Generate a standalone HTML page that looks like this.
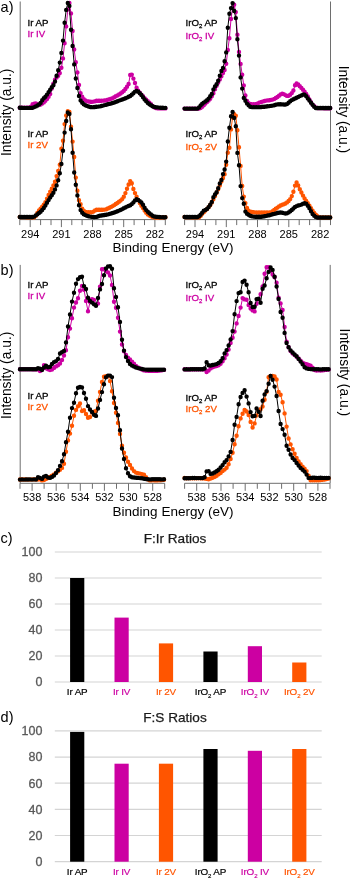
<!DOCTYPE html>
<html><head><meta charset="utf-8"><style>
html,body{margin:0;padding:0;background:#fff;width:350px;height:878px;overflow:hidden}
svg{display:block;will-change:transform;font-family:"Liberation Sans", sans-serif}
</style></head><body>
<svg width="350" height="878" viewBox="0 0 350 878">
<line x1="20.2" y1="1.5" x2="20.2" y2="219.6" stroke="#6e6e6e" stroke-width="1"/>
<line x1="330.5" y1="1.5" x2="330.5" y2="219.6" stroke="#6e6e6e" stroke-width="1"/>
<line x1="19.8" y1="219.6" x2="165.3" y2="219.6" stroke="#6e6e6e" stroke-width="1"/>
<line x1="19.8" y1="219.6" x2="19.8" y2="225.1" stroke="#6e6e6e" stroke-width="1"/>
<line x1="30.2" y1="219.6" x2="30.2" y2="227.1" stroke="#6e6e6e" stroke-width="1"/>
<text x="30.2" y="237.8" font-size="11" fill="#000" text-anchor="middle">294</text>
<line x1="40.6" y1="219.6" x2="40.6" y2="225.1" stroke="#6e6e6e" stroke-width="1"/>
<line x1="51" y1="219.6" x2="51" y2="225.1" stroke="#6e6e6e" stroke-width="1"/>
<line x1="61.4" y1="219.6" x2="61.4" y2="227.1" stroke="#6e6e6e" stroke-width="1"/>
<text x="61.4" y="237.8" font-size="11" fill="#000" text-anchor="middle">291</text>
<line x1="71.8" y1="219.6" x2="71.8" y2="225.1" stroke="#6e6e6e" stroke-width="1"/>
<line x1="82.1" y1="219.6" x2="82.1" y2="225.1" stroke="#6e6e6e" stroke-width="1"/>
<line x1="92.5" y1="219.6" x2="92.5" y2="227.1" stroke="#6e6e6e" stroke-width="1"/>
<text x="92.5" y="237.8" font-size="11" fill="#000" text-anchor="middle">288</text>
<line x1="102.9" y1="219.6" x2="102.9" y2="225.1" stroke="#6e6e6e" stroke-width="1"/>
<line x1="113.3" y1="219.6" x2="113.3" y2="225.1" stroke="#6e6e6e" stroke-width="1"/>
<line x1="123.7" y1="219.6" x2="123.7" y2="227.1" stroke="#6e6e6e" stroke-width="1"/>
<text x="123.7" y="237.8" font-size="11" fill="#000" text-anchor="middle">285</text>
<line x1="134.1" y1="219.6" x2="134.1" y2="225.1" stroke="#6e6e6e" stroke-width="1"/>
<line x1="144.5" y1="219.6" x2="144.5" y2="225.1" stroke="#6e6e6e" stroke-width="1"/>
<line x1="154.9" y1="219.6" x2="154.9" y2="227.1" stroke="#6e6e6e" stroke-width="1"/>
<text x="154.9" y="237.8" font-size="11" fill="#000" text-anchor="middle">282</text>
<line x1="165.3" y1="219.6" x2="165.3" y2="225.1" stroke="#6e6e6e" stroke-width="1"/>
<line x1="184.6" y1="219.6" x2="330.5" y2="219.6" stroke="#6e6e6e" stroke-width="1"/>
<line x1="184.6" y1="219.6" x2="184.6" y2="225.1" stroke="#6e6e6e" stroke-width="1"/>
<line x1="195" y1="219.6" x2="195" y2="227.1" stroke="#6e6e6e" stroke-width="1"/>
<text x="195" y="237.8" font-size="11" fill="#000" text-anchor="middle">294</text>
<line x1="205.4" y1="219.6" x2="205.4" y2="225.1" stroke="#6e6e6e" stroke-width="1"/>
<line x1="215.9" y1="219.6" x2="215.9" y2="225.1" stroke="#6e6e6e" stroke-width="1"/>
<line x1="226.3" y1="219.6" x2="226.3" y2="227.1" stroke="#6e6e6e" stroke-width="1"/>
<text x="226.3" y="237.8" font-size="11" fill="#000" text-anchor="middle">291</text>
<line x1="236.7" y1="219.6" x2="236.7" y2="225.1" stroke="#6e6e6e" stroke-width="1"/>
<line x1="247.1" y1="219.6" x2="247.1" y2="225.1" stroke="#6e6e6e" stroke-width="1"/>
<line x1="257.5" y1="219.6" x2="257.5" y2="227.1" stroke="#6e6e6e" stroke-width="1"/>
<text x="257.5" y="237.8" font-size="11" fill="#000" text-anchor="middle">288</text>
<line x1="268" y1="219.6" x2="268" y2="225.1" stroke="#6e6e6e" stroke-width="1"/>
<line x1="278.4" y1="219.6" x2="278.4" y2="225.1" stroke="#6e6e6e" stroke-width="1"/>
<line x1="288.8" y1="219.6" x2="288.8" y2="227.1" stroke="#6e6e6e" stroke-width="1"/>
<text x="288.8" y="237.8" font-size="11" fill="#000" text-anchor="middle">285</text>
<line x1="299.2" y1="219.6" x2="299.2" y2="225.1" stroke="#6e6e6e" stroke-width="1"/>
<line x1="309.6" y1="219.6" x2="309.6" y2="225.1" stroke="#6e6e6e" stroke-width="1"/>
<line x1="320.1" y1="219.6" x2="320.1" y2="227.1" stroke="#6e6e6e" stroke-width="1"/>
<text x="320.1" y="237.8" font-size="11" fill="#000" text-anchor="middle">282</text>
<line x1="330.5" y1="219.6" x2="330.5" y2="225.1" stroke="#6e6e6e" stroke-width="1"/>
<path d="M19.8 107.8 21.4 107.8 23 107.8 24.6 107.7 26.2 107.7 27.8 107.6 29.4 107.5 31 106.6 32.6 104.3 34.2 103.7 35.8 103.5 37.4 104.2 39 105 40.6 104.6 42.2 103.5 43.8 102.4 45.4 100.8 47 99 48.6 96.8 50.2 93.9 51.8 88.6 53.4 83.7 55 79.8 56.6 77.4 58.2 75.8 59.8 73.1 61.4 67.8 63 58.4 64.6 43.2 66.2 26.4 67.8 9.5 69.4 3 71 13.4 72.6 31 74.2 49.5 75.8 62.2 77.4 72.4 79 85 80.6 93.3 82.2 96.8 83.8 99.1 85.4 100.5 87 101.1 88.6 101.5 90.2 101.8 91.8 101.9 93.4 101.6 95 101.2 96.6 100.8 98.2 100.7 99.8 100.7 101.4 100.7 103 100.6 104.6 100.5 106.2 100.2 107.8 99.8 109.4 99.3 111 98.8 112.6 98.1 114.2 97.2 115.8 96.3 117.4 95.4 119 94.5 120.6 93.5 122.2 92.3 123.8 90.9 125.4 89 127 86.7 128.6 84 130.2 75 131.8 74.6 133.4 78.6 135 83 136.6 87.7 138.2 90.7 139.8 92.8 141.4 94.6 143 96.3 144.6 98.1 146.2 99.8 147.8 101.3 149.4 102.8 151 104.3 152.6 105.9 154.2 107.3 155.8 108.1 157.4 108.2 159 108.3 160.6 108.3 162.2 108.4 163.8 108.4 165.4 108.4" fill="none" stroke="#cc00a2" stroke-width="1.0"/>
<path d="M19.8 107.8h0M21.4 107.8h0M23 107.8h0M24.6 107.7h0M26.2 107.7h0M27.8 107.6h0M29.4 107.5h0M31 106.6h0M32.6 104.3h0M34.2 103.7h0M35.8 103.5h0M37.4 104.2h0M39 105h0M40.6 104.6h0M42.2 103.5h0M43.8 102.4h0M45.4 100.8h0M47 99h0M48.6 96.8h0M50.2 93.9h0M51.8 88.6h0M53.4 83.7h0M55 79.8h0M56.6 77.4h0M58.2 75.8h0M59.8 73.1h0M61.4 67.8h0M63 58.4h0M64.6 43.2h0M66.2 26.4h0M67.8 9.5h0M69.4 3h0M71 13.4h0M72.6 31h0M74.2 49.5h0M75.8 62.2h0M77.4 72.4h0M79 85h0M80.6 93.3h0M82.2 96.8h0M83.8 99.1h0M85.4 100.5h0M87 101.1h0M88.6 101.5h0M90.2 101.8h0M91.8 101.9h0M93.4 101.6h0M95 101.2h0M96.6 100.8h0M98.2 100.7h0M99.8 100.7h0M101.4 100.7h0M103 100.6h0M104.6 100.5h0M106.2 100.2h0M107.8 99.8h0M109.4 99.3h0M111 98.8h0M112.6 98.1h0M114.2 97.2h0M115.8 96.3h0M117.4 95.4h0M119 94.5h0M120.6 93.5h0M122.2 92.3h0M123.8 90.9h0M125.4 89h0M127 86.7h0M128.6 84h0M130.2 75h0M131.8 74.6h0M133.4 78.6h0M135 83h0M136.6 87.7h0M138.2 90.7h0M139.8 92.8h0M141.4 94.6h0M143 96.3h0M144.6 98.1h0M146.2 99.8h0M147.8 101.3h0M149.4 102.8h0M151 104.3h0M152.6 105.9h0M154.2 107.3h0M155.8 108.1h0M157.4 108.2h0M159 108.3h0M160.6 108.3h0M162.2 108.4h0M163.8 108.4h0M165.4 108.4h0" fill="none" stroke="#cc00a2" stroke-width="4.4" stroke-linecap="round"/>
<path d="M19.8 107.8 21.4 107.8 23 107.9 24.6 107.9 26.2 107.9 27.8 107.9 29.4 107.9 31 107.9 32.6 107.7 34.2 107.1 35.8 106.4 37.4 105.5 39 104.4 40.6 102.9 42.2 100.3 43.8 98.3 45.4 96.7 47 94.6 48.6 92.1 50.2 89.7 51.8 87.3 53.4 85.2 55 81.6 56.6 75.7 58.2 70.2 59.8 62.6 61.4 52.9 63 40.6 64.6 22.7 66.2 9.9 67.8 3 69.4 5.9 71 29.7 72.6 46 74.2 64.4 75.8 78.5 77.4 88 79 96 80.6 100.4 82.2 102.7 83.8 104.2 85.4 105.2 87 105.9 88.6 106.5 90.2 107 91.8 107.1 93.4 107.1 95 107 96.6 106.8 98.2 106.6 99.8 106.4 101.4 106 103 105.6 104.6 105.1 106.2 104.7 107.8 104.3 109.4 103.9 111 103.5 112.6 103 114.2 102.5 115.8 101.9 117.4 101.2 119 100.6 120.6 100.1 122.2 99.5 123.8 98.9 125.4 98.3 127 97.6 128.6 96.8 130.2 96 131.8 94.8 133.4 93.2 135 91.6 136.6 90.9 138.2 91.8 139.8 93.2 141.4 95 143 97.3 144.6 99.4 146.2 101.2 147.8 102.9 149.4 104.3 151 105.3 152.6 106.2 154.2 106.9 155.8 107.2 157.4 107.4 159 107.6 160.6 107.7 162.2 107.8 163.8 107.9 165.4 107.9" fill="none" stroke="#000000" stroke-width="1.0"/>
<path d="M19.8 107.8h0M21.4 107.8h0M23 107.9h0M24.6 107.9h0M26.2 107.9h0M27.8 107.9h0M29.4 107.9h0M31 107.9h0M32.6 107.7h0M34.2 107.1h0M35.8 106.4h0M37.4 105.5h0M39 104.4h0M40.6 102.9h0M42.2 100.3h0M43.8 98.3h0M45.4 96.7h0M47 94.6h0M48.6 92.1h0M50.2 89.7h0M51.8 87.3h0M53.4 85.2h0M55 81.6h0M56.6 75.7h0M58.2 70.2h0M59.8 62.6h0M61.4 52.9h0M63 40.6h0M64.6 22.7h0M66.2 9.9h0M67.8 3h0M69.4 5.9h0M71 29.7h0M72.6 46h0M74.2 64.4h0M75.8 78.5h0M77.4 88h0M79 96h0M80.6 100.4h0M82.2 102.7h0M83.8 104.2h0M85.4 105.2h0M87 105.9h0M88.6 106.5h0M90.2 107h0M91.8 107.1h0M93.4 107.1h0M95 107h0M96.6 106.8h0M98.2 106.6h0M99.8 106.4h0M101.4 106h0M103 105.6h0M104.6 105.1h0M106.2 104.7h0M107.8 104.3h0M109.4 103.9h0M111 103.5h0M112.6 103h0M114.2 102.5h0M115.8 101.9h0M117.4 101.2h0M119 100.6h0M120.6 100.1h0M122.2 99.5h0M123.8 98.9h0M125.4 98.3h0M127 97.6h0M128.6 96.8h0M130.2 96h0M131.8 94.8h0M133.4 93.2h0M135 91.6h0M136.6 90.9h0M138.2 91.8h0M139.8 93.2h0M141.4 95h0M143 97.3h0M144.6 99.4h0M146.2 101.2h0M147.8 102.9h0M149.4 104.3h0M151 105.3h0M152.6 106.2h0M154.2 106.9h0M155.8 107.2h0M157.4 107.4h0M159 107.6h0M160.6 107.7h0M162.2 107.8h0M163.8 107.9h0M165.4 107.9h0" fill="none" stroke="#000000" stroke-width="4.4" stroke-linecap="round"/>
<path d="M19.8 217 21.4 217.1 23 217.1 24.6 217.1 26.2 217.2 27.8 217.2 29.4 217.2 31 217.2 32.6 217.2 34.2 217.2 35.8 215.7 37.4 212.9 39 210.5 40.6 208.6 42.2 206.8 43.8 204.8 45.4 202.3 47 198.7 48.6 195 50.2 191.8 51.8 188.8 53.4 185.4 55 181.7 56.6 176.1 58.2 170.9 59.8 164.8 61.4 148.7 63 140.7 64.6 124.1 66.2 115.5 67.8 111.1 69.4 111.9 71 126.6 72.6 141.6 74.2 157 75.8 177.6 77.4 190.8 79 200.3 80.6 204.3 82.2 208.8 83.8 210.8 85.4 212 87 212.3 88.6 212.3 90.2 212.3 91.8 212.3 93.4 211.6 95 210.5 96.6 209.7 98.2 209.7 99.8 209.7 101.4 209.7 103 209.7 104.6 209.6 106.2 209.2 107.8 208.5 109.4 207.7 111 206.9 112.6 206.1 114.2 205.1 115.8 204 117.4 202.9 119 201.8 120.6 200.6 122.2 199.1 123.8 196.7 125.4 193.1 127 188.8 128.6 184.5 130.2 181.1 131.8 183.3 133.4 189 135 193.1 136.6 196.8 138.2 200.1 139.8 203 141.4 205.7 143 208.1 144.6 210.5 146.2 212.8 147.8 214.4 149.4 215.5 151 216.3 152.6 217 154.2 217.4 155.8 217.5 157.4 217.5 159 217.5 160.6 217.5 162.2 217.4 163.8 217.3 165.4 217.2" fill="none" stroke="#ff5500" stroke-width="1.0"/>
<path d="M19.8 217h0M21.4 217.1h0M23 217.1h0M24.6 217.1h0M26.2 217.2h0M27.8 217.2h0M29.4 217.2h0M31 217.2h0M32.6 217.2h0M34.2 217.2h0M35.8 215.7h0M37.4 212.9h0M39 210.5h0M40.6 208.6h0M42.2 206.8h0M43.8 204.8h0M45.4 202.3h0M47 198.7h0M48.6 195h0M50.2 191.8h0M51.8 188.8h0M53.4 185.4h0M55 181.7h0M56.6 176.1h0M58.2 170.9h0M59.8 164.8h0M61.4 148.7h0M63 140.7h0M64.6 124.1h0M66.2 115.5h0M67.8 111.1h0M69.4 111.9h0M71 126.6h0M72.6 141.6h0M74.2 157h0M75.8 177.6h0M77.4 190.8h0M79 200.3h0M80.6 204.3h0M82.2 208.8h0M83.8 210.8h0M85.4 212h0M87 212.3h0M88.6 212.3h0M90.2 212.3h0M91.8 212.3h0M93.4 211.6h0M95 210.5h0M96.6 209.7h0M98.2 209.7h0M99.8 209.7h0M101.4 209.7h0M103 209.7h0M104.6 209.6h0M106.2 209.2h0M107.8 208.5h0M109.4 207.7h0M111 206.9h0M112.6 206.1h0M114.2 205.1h0M115.8 204h0M117.4 202.9h0M119 201.8h0M120.6 200.6h0M122.2 199.1h0M123.8 196.7h0M125.4 193.1h0M127 188.8h0M128.6 184.5h0M130.2 181.1h0M131.8 183.3h0M133.4 189h0M135 193.1h0M136.6 196.8h0M138.2 200.1h0M139.8 203h0M141.4 205.7h0M143 208.1h0M144.6 210.5h0M146.2 212.8h0M147.8 214.4h0M149.4 215.5h0M151 216.3h0M152.6 217h0M154.2 217.4h0M155.8 217.5h0M157.4 217.5h0M159 217.5h0M160.6 217.5h0M162.2 217.4h0M163.8 217.3h0M165.4 217.2h0" fill="none" stroke="#ff5500" stroke-width="4.4" stroke-linecap="round"/>
<path d="M19.8 217 21.4 217 23 217 24.6 217 26.2 217 27.8 217 29.4 217 31 217 32.6 217 34.2 216.6 35.8 215.4 37.4 214.2 39 213 40.6 211.7 42.2 210 43.8 208 45.4 205.5 47 202.7 48.6 200.1 50.2 197.4 51.8 195.2 53.4 192.8 55 189.4 56.6 185.4 58.2 180.2 59.8 173.2 61.4 163.9 63 150.7 64.6 132.6 66.2 121 67.8 112.5 69.4 113.9 71 129.3 72.6 152.7 74.2 172.5 75.8 184.7 77.4 195.4 79 205.2 80.6 210.1 82.2 212.7 83.8 214.2 85.4 215.1 87 215.8 88.6 216.3 90.2 216.6 91.8 216.9 93.4 217 95 217.1 96.6 216.9 98.2 216.3 99.8 215.8 101.4 215.5 103 215.3 104.6 215 106.2 214.7 107.8 214.4 109.4 213.9 111 213.5 112.6 213 114.2 212.5 115.8 211.9 117.4 211.3 119 210.6 120.6 209.9 122.2 209.1 123.8 208.2 125.4 207.4 127 206.6 128.6 205.9 130.2 205.2 131.8 204.1 133.4 202.4 135 200.5 136.6 199.3 138.2 200 139.8 201.1 141.4 202.5 143 204.8 144.6 207.8 146.2 210.1 147.8 211.8 149.4 213.2 151 214.5 152.6 215.7 154.2 216.5 155.8 216.8 157.4 216.9 159 217 160.6 217.1 162.2 217.1 163.8 217.2 165.4 217.2" fill="none" stroke="#000000" stroke-width="1.0"/>
<path d="M19.8 217h0M21.4 217h0M23 217h0M24.6 217h0M26.2 217h0M27.8 217h0M29.4 217h0M31 217h0M32.6 217h0M34.2 216.6h0M35.8 215.4h0M37.4 214.2h0M39 213h0M40.6 211.7h0M42.2 210h0M43.8 208h0M45.4 205.5h0M47 202.7h0M48.6 200.1h0M50.2 197.4h0M51.8 195.2h0M53.4 192.8h0M55 189.4h0M56.6 185.4h0M58.2 180.2h0M59.8 173.2h0M61.4 163.9h0M63 150.7h0M64.6 132.6h0M66.2 121h0M67.8 112.5h0M69.4 113.9h0M71 129.3h0M72.6 152.7h0M74.2 172.5h0M75.8 184.7h0M77.4 195.4h0M79 205.2h0M80.6 210.1h0M82.2 212.7h0M83.8 214.2h0M85.4 215.1h0M87 215.8h0M88.6 216.3h0M90.2 216.6h0M91.8 216.9h0M93.4 217h0M95 217.1h0M96.6 216.9h0M98.2 216.3h0M99.8 215.8h0M101.4 215.5h0M103 215.3h0M104.6 215h0M106.2 214.7h0M107.8 214.4h0M109.4 213.9h0M111 213.5h0M112.6 213h0M114.2 212.5h0M115.8 211.9h0M117.4 211.3h0M119 210.6h0M120.6 209.9h0M122.2 209.1h0M123.8 208.2h0M125.4 207.4h0M127 206.6h0M128.6 205.9h0M130.2 205.2h0M131.8 204.1h0M133.4 202.4h0M135 200.5h0M136.6 199.3h0M138.2 200h0M139.8 201.1h0M141.4 202.5h0M143 204.8h0M144.6 207.8h0M146.2 210.1h0M147.8 211.8h0M149.4 213.2h0M151 214.5h0M152.6 215.7h0M154.2 216.5h0M155.8 216.8h0M157.4 216.9h0M159 217h0M160.6 217.1h0M162.2 217.1h0M163.8 217.2h0M165.4 217.2h0" fill="none" stroke="#000000" stroke-width="4.4" stroke-linecap="round"/>
<path d="M184.6 108.6 186.2 108.6 187.8 108.6 189.4 108.6 191 108.6 192.6 108.6 194.2 108.6 195.8 108.6 197.4 108.6 199 108.6 200.6 108 202.2 106.7 203.8 105.3 205.4 103.6 207 102 208.6 100.6 210.2 98.7 211.8 96.2 213.4 93.2 215 89.3 216.6 85.7 218.2 82.6 219.8 79.4 221.4 76.2 223 73 224.6 70 226.2 63.7 227.8 50 229.4 38.3 231 19 232.6 7.7 234.2 4.8 235.8 12.1 237.4 34.8 239 51.9 240.6 63.9 242.2 74.7 243.8 85.4 245.4 95.4 247 101 248.6 103.2 250.2 104 251.8 104.1 253.4 104.2 255 104.2 256.6 103.9 258.2 103.1 259.8 102.4 261.4 101.9 263 101.4 264.6 101 266.2 100.6 267.8 100.4 269.4 100.2 271 99.9 272.6 99.6 274.2 98.9 275.8 98 277.4 97 279 95.8 280.6 94.4 282.2 93.7 283.8 94.1 285.4 95.1 287 95.9 288.6 95.8 290.2 94.7 291.8 93.1 293.4 90.5 295 85.2 296.6 83.5 298.2 84.5 299.8 86.2 301.4 87.9 303 89.7 304.6 91.8 306.2 94 307.8 96.5 309.4 99.4 311 102.2 312.6 104.6 314.2 106.1 315.8 107.4 317.4 108 319 108.1 320.6 108.1 322.2 108.1 323.8 108.2 325.4 108.2 327 108.2 328.6 108.2 330.2 108.2" fill="none" stroke="#cc00a2" stroke-width="1.0"/>
<path d="M184.6 108.6h0M186.2 108.6h0M187.8 108.6h0M189.4 108.6h0M191 108.6h0M192.6 108.6h0M194.2 108.6h0M195.8 108.6h0M197.4 108.6h0M199 108.6h0M200.6 108h0M202.2 106.7h0M203.8 105.3h0M205.4 103.6h0M207 102h0M208.6 100.6h0M210.2 98.7h0M211.8 96.2h0M213.4 93.2h0M215 89.3h0M216.6 85.7h0M218.2 82.6h0M219.8 79.4h0M221.4 76.2h0M223 73h0M224.6 70h0M226.2 63.7h0M227.8 50h0M229.4 38.3h0M231 19h0M232.6 7.7h0M234.2 4.8h0M235.8 12.1h0M237.4 34.8h0M239 51.9h0M240.6 63.9h0M242.2 74.7h0M243.8 85.4h0M245.4 95.4h0M247 101h0M248.6 103.2h0M250.2 104h0M251.8 104.1h0M253.4 104.2h0M255 104.2h0M256.6 103.9h0M258.2 103.1h0M259.8 102.4h0M261.4 101.9h0M263 101.4h0M264.6 101h0M266.2 100.6h0M267.8 100.4h0M269.4 100.2h0M271 99.9h0M272.6 99.6h0M274.2 98.9h0M275.8 98h0M277.4 97h0M279 95.8h0M280.6 94.4h0M282.2 93.7h0M283.8 94.1h0M285.4 95.1h0M287 95.9h0M288.6 95.8h0M290.2 94.7h0M291.8 93.1h0M293.4 90.5h0M295 85.2h0M296.6 83.5h0M298.2 84.5h0M299.8 86.2h0M301.4 87.9h0M303 89.7h0M304.6 91.8h0M306.2 94h0M307.8 96.5h0M309.4 99.4h0M311 102.2h0M312.6 104.6h0M314.2 106.1h0M315.8 107.4h0M317.4 108h0M319 108.1h0M320.6 108.1h0M322.2 108.1h0M323.8 108.2h0M325.4 108.2h0M327 108.2h0M328.6 108.2h0M330.2 108.2h0" fill="none" stroke="#cc00a2" stroke-width="4.4" stroke-linecap="round"/>
<path d="M184.6 108.6 186.2 108.6 187.8 108.6 189.4 108.6 191 108.6 192.6 108.6 194.2 108.6 195.8 108.6 197.4 108.6 199 107.5 200.6 105.4 202.2 103.8 203.8 102.6 205.4 101.4 207 100.2 208.6 98.6 210.2 96.3 211.8 93.9 213.4 89.4 215 86.4 216.6 84.2 218.2 80.7 219.8 75.8 221.4 71 223 67.9 224.6 61.2 226.2 52.4 227.8 27.7 229.4 13.8 231 8.1 232.6 3.1 234.2 11 235.8 18.1 237.4 39.3 239 55.6 240.6 77.4 242.2 88.6 243.8 97.9 245.4 100.8 247 103.6 248.6 105.3 250.2 106.7 251.8 107.1 253.4 107.1 255 107.1 256.6 107.1 258.2 107.1 259.8 107.1 261.4 107 263 106.8 264.6 106.7 266.2 106.5 267.8 106.3 269.4 106.1 271 105.9 272.6 105.6 274.2 105.2 275.8 104.8 277.4 104.4 279 104.3 280.6 104.3 282.2 104.4 283.8 104.5 285.4 104.5 287 104.1 288.6 102.8 290.2 101.2 291.8 100.1 293.4 99.3 295 98.5 296.6 97.7 298.2 96.9 299.8 96.1 301.4 95.4 303 94.6 304.6 94.7 306.2 96.3 307.8 98.4 309.4 100.5 311 102.8 312.6 104.8 314.2 106.8 315.8 108 317.4 108 319 108 320.6 108 322.2 108 323.8 108 325.4 108 327 108 328.6 108 330.2 108" fill="none" stroke="#000000" stroke-width="1.0"/>
<path d="M184.6 108.6h0M186.2 108.6h0M187.8 108.6h0M189.4 108.6h0M191 108.6h0M192.6 108.6h0M194.2 108.6h0M195.8 108.6h0M197.4 108.6h0M199 107.5h0M200.6 105.4h0M202.2 103.8h0M203.8 102.6h0M205.4 101.4h0M207 100.2h0M208.6 98.6h0M210.2 96.3h0M211.8 93.9h0M213.4 89.4h0M215 86.4h0M216.6 84.2h0M218.2 80.7h0M219.8 75.8h0M221.4 71h0M223 67.9h0M224.6 61.2h0M226.2 52.4h0M227.8 27.7h0M229.4 13.8h0M231 8.1h0M232.6 3.1h0M234.2 11h0M235.8 18.1h0M237.4 39.3h0M239 55.6h0M240.6 77.4h0M242.2 88.6h0M243.8 97.9h0M245.4 100.8h0M247 103.6h0M248.6 105.3h0M250.2 106.7h0M251.8 107.1h0M253.4 107.1h0M255 107.1h0M256.6 107.1h0M258.2 107.1h0M259.8 107.1h0M261.4 107h0M263 106.8h0M264.6 106.7h0M266.2 106.5h0M267.8 106.3h0M269.4 106.1h0M271 105.9h0M272.6 105.6h0M274.2 105.2h0M275.8 104.8h0M277.4 104.4h0M279 104.3h0M280.6 104.3h0M282.2 104.4h0M283.8 104.5h0M285.4 104.5h0M287 104.1h0M288.6 102.8h0M290.2 101.2h0M291.8 100.1h0M293.4 99.3h0M295 98.5h0M296.6 97.7h0M298.2 96.9h0M299.8 96.1h0M301.4 95.4h0M303 94.6h0M304.6 94.7h0M306.2 96.3h0M307.8 98.4h0M309.4 100.5h0M311 102.8h0M312.6 104.8h0M314.2 106.8h0M315.8 108h0M317.4 108h0M319 108h0M320.6 108h0M322.2 108h0M323.8 108h0M325.4 108h0M327 108h0M328.6 108h0M330.2 108h0" fill="none" stroke="#000000" stroke-width="4.4" stroke-linecap="round"/>
<path d="M184.6 217 186.2 217.1 187.8 217.1 189.4 217.1 191 217.2 192.6 217.2 194.2 217.2 195.8 217.2 197.4 217.2 199 217.2 200.6 215.9 202.2 213.8 203.8 212.2 205.4 210.6 207 209.1 208.6 207.3 210.2 205.2 211.8 202.6 213.4 199.2 215 196 216.6 192.8 218.2 189.3 219.8 185.5 221.4 181.6 223 178 224.6 174.2 226.2 164.7 227.8 152.8 229.4 147.7 231 129.4 232.6 117.6 234.2 114.2 235.8 115.7 237.4 130.2 239 147.2 240.6 165.9 242.2 186 243.8 196.6 245.4 203.1 247 208 248.6 210.8 250.2 211.7 251.8 212 253.4 212.3 255 212.4 256.6 212.5 258.2 212.5 259.8 212.5 261.4 212.5 263 212.5 264.6 212.5 266.2 212.5 267.8 212.4 269.4 212.4 271 212.2 272.6 211.3 274.2 210 275.8 208.8 277.4 207.6 279 206.4 280.6 205.5 282.2 204.8 283.8 204.2 285.4 203.5 287 202.4 288.6 201 290.2 199.1 291.8 196.1 293.4 191.7 295 185.6 296.6 182.4 298.2 185.4 299.8 189.2 301.4 192.5 303 195.6 304.6 198.4 306.2 200.9 307.8 203.2 309.4 205.6 311 208.2 312.6 210.8 314.2 213 315.8 214.6 317.4 216.2 319 217.2 320.6 217.5 322.2 217.5 323.8 217.5 325.4 217.5 327 217.5 328.6 217.5 330.2 217.5" fill="none" stroke="#ff5500" stroke-width="1.0"/>
<path d="M184.6 217h0M186.2 217.1h0M187.8 217.1h0M189.4 217.1h0M191 217.2h0M192.6 217.2h0M194.2 217.2h0M195.8 217.2h0M197.4 217.2h0M199 217.2h0M200.6 215.9h0M202.2 213.8h0M203.8 212.2h0M205.4 210.6h0M207 209.1h0M208.6 207.3h0M210.2 205.2h0M211.8 202.6h0M213.4 199.2h0M215 196h0M216.6 192.8h0M218.2 189.3h0M219.8 185.5h0M221.4 181.6h0M223 178h0M224.6 174.2h0M226.2 164.7h0M227.8 152.8h0M229.4 147.7h0M231 129.4h0M232.6 117.6h0M234.2 114.2h0M235.8 115.7h0M237.4 130.2h0M239 147.2h0M240.6 165.9h0M242.2 186h0M243.8 196.6h0M245.4 203.1h0M247 208h0M248.6 210.8h0M250.2 211.7h0M251.8 212h0M253.4 212.3h0M255 212.4h0M256.6 212.5h0M258.2 212.5h0M259.8 212.5h0M261.4 212.5h0M263 212.5h0M264.6 212.5h0M266.2 212.5h0M267.8 212.4h0M269.4 212.4h0M271 212.2h0M272.6 211.3h0M274.2 210h0M275.8 208.8h0M277.4 207.6h0M279 206.4h0M280.6 205.5h0M282.2 204.8h0M283.8 204.2h0M285.4 203.5h0M287 202.4h0M288.6 201h0M290.2 199.1h0M291.8 196.1h0M293.4 191.7h0M295 185.6h0M296.6 182.4h0M298.2 185.4h0M299.8 189.2h0M301.4 192.5h0M303 195.6h0M304.6 198.4h0M306.2 200.9h0M307.8 203.2h0M309.4 205.6h0M311 208.2h0M312.6 210.8h0M314.2 213h0M315.8 214.6h0M317.4 216.2h0M319 217.2h0M320.6 217.5h0M322.2 217.5h0M323.8 217.5h0M325.4 217.5h0M327 217.5h0M328.6 217.5h0M330.2 217.5h0" fill="none" stroke="#ff5500" stroke-width="4.4" stroke-linecap="round"/>
<path d="M184.6 217 186.2 217 187.8 217 189.4 217 191 217 192.6 217 194.2 217 195.8 217 197.4 217 199 216.2 200.6 214.7 202.2 212.8 203.8 210.8 205.4 209.9 207 208.9 208.6 207.1 210.2 204.7 211.8 201.9 213.4 197.3 215 194.5 216.6 192.2 218.2 188.3 219.8 183.4 221.4 179.9 223 174.1 224.6 169.5 226.2 161.6 227.8 141.5 229.4 127.7 231 116.3 232.6 111.9 234.2 117.9 235.8 126.3 237.4 152.9 239 165.2 240.6 186.1 242.2 198.1 243.8 203.7 245.4 211.6 247 213.8 248.6 214.8 250.2 215.7 251.8 216.3 253.4 216.6 255 216.7 256.6 216.7 258.2 216.8 259.8 216.8 261.4 216.7 263 216.5 264.6 216.2 266.2 215.9 267.8 215.5 269.4 215.2 271 214.7 272.6 214.3 274.2 213.9 275.8 213.5 277.4 213 279 212.7 280.6 212.5 282.2 212.7 283.8 213.1 285.4 213.5 287 213.3 288.6 212.4 290.2 211.2 291.8 210 293.4 208.5 295 207 296.6 206.1 298.2 205.5 299.8 205.1 301.4 204.6 303 203.8 304.6 203.2 306.2 203.7 307.8 205.8 309.4 208.3 311 211.2 312.6 214 314.2 215.7 315.8 216.9 317.4 217.5 319 217.5 320.6 217.5 322.2 217.5 323.8 217.5 325.4 217.5 327 217.5 328.6 217.5 330.2 217.5" fill="none" stroke="#000000" stroke-width="1.0"/>
<path d="M184.6 217h0M186.2 217h0M187.8 217h0M189.4 217h0M191 217h0M192.6 217h0M194.2 217h0M195.8 217h0M197.4 217h0M199 216.2h0M200.6 214.7h0M202.2 212.8h0M203.8 210.8h0M205.4 209.9h0M207 208.9h0M208.6 207.1h0M210.2 204.7h0M211.8 201.9h0M213.4 197.3h0M215 194.5h0M216.6 192.2h0M218.2 188.3h0M219.8 183.4h0M221.4 179.9h0M223 174.1h0M224.6 169.5h0M226.2 161.6h0M227.8 141.5h0M229.4 127.7h0M231 116.3h0M232.6 111.9h0M234.2 117.9h0M235.8 126.3h0M237.4 152.9h0M239 165.2h0M240.6 186.1h0M242.2 198.1h0M243.8 203.7h0M245.4 211.6h0M247 213.8h0M248.6 214.8h0M250.2 215.7h0M251.8 216.3h0M253.4 216.6h0M255 216.7h0M256.6 216.7h0M258.2 216.8h0M259.8 216.8h0M261.4 216.7h0M263 216.5h0M264.6 216.2h0M266.2 215.9h0M267.8 215.5h0M269.4 215.2h0M271 214.7h0M272.6 214.3h0M274.2 213.9h0M275.8 213.5h0M277.4 213h0M279 212.7h0M280.6 212.5h0M282.2 212.7h0M283.8 213.1h0M285.4 213.5h0M287 213.3h0M288.6 212.4h0M290.2 211.2h0M291.8 210h0M293.4 208.5h0M295 207h0M296.6 206.1h0M298.2 205.5h0M299.8 205.1h0M301.4 204.6h0M303 203.8h0M304.6 203.2h0M306.2 203.7h0M307.8 205.8h0M309.4 208.3h0M311 211.2h0M312.6 214h0M314.2 215.7h0M315.8 216.9h0M317.4 217.5h0M319 217.5h0M320.6 217.5h0M322.2 217.5h0M323.8 217.5h0M325.4 217.5h0M327 217.5h0M328.6 217.5h0M330.2 217.5h0" fill="none" stroke="#000000" stroke-width="4.4" stroke-linecap="round"/>
<line x1="20.2" y1="264.9" x2="20.2" y2="483.3" stroke="#6e6e6e" stroke-width="1"/>
<line x1="330.2" y1="264.9" x2="330.2" y2="483.3" stroke="#6e6e6e" stroke-width="1"/>
<line x1="20" y1="483.3" x2="164.7" y2="483.3" stroke="#6e6e6e" stroke-width="1"/>
<line x1="20" y1="483.3" x2="20" y2="488.8" stroke="#6e6e6e" stroke-width="1"/>
<line x1="32.1" y1="483.3" x2="32.1" y2="490.8" stroke="#6e6e6e" stroke-width="1"/>
<text x="32.1" y="500.8" font-size="11" fill="#000" text-anchor="middle">538</text>
<line x1="44.1" y1="483.3" x2="44.1" y2="488.8" stroke="#6e6e6e" stroke-width="1"/>
<line x1="56.2" y1="483.3" x2="56.2" y2="490.8" stroke="#6e6e6e" stroke-width="1"/>
<text x="56.2" y="500.8" font-size="11" fill="#000" text-anchor="middle">536</text>
<line x1="68.2" y1="483.3" x2="68.2" y2="488.8" stroke="#6e6e6e" stroke-width="1"/>
<line x1="80.3" y1="483.3" x2="80.3" y2="490.8" stroke="#6e6e6e" stroke-width="1"/>
<text x="80.3" y="500.8" font-size="11" fill="#000" text-anchor="middle">534</text>
<line x1="92.4" y1="483.3" x2="92.4" y2="488.8" stroke="#6e6e6e" stroke-width="1"/>
<line x1="104.4" y1="483.3" x2="104.4" y2="490.8" stroke="#6e6e6e" stroke-width="1"/>
<text x="104.4" y="500.8" font-size="11" fill="#000" text-anchor="middle">532</text>
<line x1="116.5" y1="483.3" x2="116.5" y2="488.8" stroke="#6e6e6e" stroke-width="1"/>
<line x1="128.5" y1="483.3" x2="128.5" y2="490.8" stroke="#6e6e6e" stroke-width="1"/>
<text x="128.5" y="500.8" font-size="11" fill="#000" text-anchor="middle">530</text>
<line x1="140.6" y1="483.3" x2="140.6" y2="488.8" stroke="#6e6e6e" stroke-width="1"/>
<line x1="152.7" y1="483.3" x2="152.7" y2="490.8" stroke="#6e6e6e" stroke-width="1"/>
<text x="152.7" y="500.8" font-size="11" fill="#000" text-anchor="middle">528</text>
<line x1="164.7" y1="483.3" x2="164.7" y2="488.8" stroke="#6e6e6e" stroke-width="1"/>
<line x1="184.6" y1="483.3" x2="330" y2="483.3" stroke="#6e6e6e" stroke-width="1"/>
<line x1="184.6" y1="483.3" x2="184.6" y2="488.8" stroke="#6e6e6e" stroke-width="1"/>
<line x1="196.7" y1="483.3" x2="196.7" y2="490.8" stroke="#6e6e6e" stroke-width="1"/>
<text x="196.7" y="500.8" font-size="11" fill="#000" text-anchor="middle">538</text>
<line x1="208.8" y1="483.3" x2="208.8" y2="488.8" stroke="#6e6e6e" stroke-width="1"/>
<line x1="221" y1="483.3" x2="221" y2="490.8" stroke="#6e6e6e" stroke-width="1"/>
<text x="221" y="500.8" font-size="11" fill="#000" text-anchor="middle">536</text>
<line x1="233.1" y1="483.3" x2="233.1" y2="488.8" stroke="#6e6e6e" stroke-width="1"/>
<line x1="245.2" y1="483.3" x2="245.2" y2="490.8" stroke="#6e6e6e" stroke-width="1"/>
<text x="245.2" y="500.8" font-size="11" fill="#000" text-anchor="middle">534</text>
<line x1="257.3" y1="483.3" x2="257.3" y2="488.8" stroke="#6e6e6e" stroke-width="1"/>
<line x1="269.4" y1="483.3" x2="269.4" y2="490.8" stroke="#6e6e6e" stroke-width="1"/>
<text x="269.4" y="500.8" font-size="11" fill="#000" text-anchor="middle">532</text>
<line x1="281.6" y1="483.3" x2="281.6" y2="488.8" stroke="#6e6e6e" stroke-width="1"/>
<line x1="293.7" y1="483.3" x2="293.7" y2="490.8" stroke="#6e6e6e" stroke-width="1"/>
<text x="293.7" y="500.8" font-size="11" fill="#000" text-anchor="middle">530</text>
<line x1="305.8" y1="483.3" x2="305.8" y2="488.8" stroke="#6e6e6e" stroke-width="1"/>
<line x1="317.9" y1="483.3" x2="317.9" y2="490.8" stroke="#6e6e6e" stroke-width="1"/>
<text x="317.9" y="500.8" font-size="11" fill="#000" text-anchor="middle">528</text>
<line x1="330" y1="483.3" x2="330" y2="488.8" stroke="#6e6e6e" stroke-width="1"/>
<path d="M20 369.3 22 369.3 24 369.2 26 369.3 28 369.2 30 369.3 32 369.3 34 369.4 36 369.4 38 369.5 40 371.1 42 369.1 44 365.1 46 368.3 48 369.3 50 370 52 369.5 54 367.9 56 366.4 58 365.3 60 363.5 62 360 64 355.5 66 350.3 68 337.3 70 328.6 72 318.2 74 307.6 76 302.5 78 298.3 80 290.7 82 285.9 84 289.8 86 301 88 311.2 90 302 92 299.1 94 299.9 96 305 98 303.6 100 286.6 102 269.2 104 269.3 106 270.9 108 272.4 110 275.5 112 285 114 301.8 116 307.8 118 317.7 120 331.6 122 344.5 124 351.2 126 355 128 357.7 130 359.4 132 361.6 134 363.7 136 365.9 138 367.4 140 368.4 142 369.5 144 370.4 146 370.8 148 370.8 150 370.9 152 370.9 154 370.8 156 370.9 158 370.7 160 370.6 162 370.2 164 369.9" fill="none" stroke="#cc00a2" stroke-width="1.0"/>
<path d="M20 369.3h0M22 369.3h0M24 369.2h0M26 369.3h0M28 369.2h0M30 369.3h0M32 369.3h0M34 369.4h0M36 369.4h0M38 369.5h0M40 371.1h0M42 369.1h0M44 365.1h0M46 368.3h0M48 369.3h0M50 370h0M52 369.5h0M54 367.9h0M56 366.4h0M58 365.3h0M60 363.5h0M62 360h0M64 355.5h0M66 350.3h0M68 337.3h0M70 328.6h0M72 318.2h0M74 307.6h0M76 302.5h0M78 298.3h0M80 290.7h0M82 285.9h0M84 289.8h0M86 301h0M88 311.2h0M90 302h0M92 299.1h0M94 299.9h0M96 305h0M98 303.6h0M100 286.6h0M102 269.2h0M104 269.3h0M106 270.9h0M108 272.4h0M110 275.5h0M112 285h0M114 301.8h0M116 307.8h0M118 317.7h0M120 331.6h0M122 344.5h0M124 351.2h0M126 355h0M128 357.7h0M130 359.4h0M132 361.6h0M134 363.7h0M136 365.9h0M138 367.4h0M140 368.4h0M142 369.5h0M144 370.4h0M146 370.8h0M148 370.8h0M150 370.9h0M152 370.9h0M154 370.8h0M156 370.9h0M158 370.7h0M160 370.6h0M162 370.2h0M164 369.9h0" fill="none" stroke="#cc00a2" stroke-width="4.4" stroke-linecap="round"/>
<path d="M20 369.3 22 369.2 24 369.3 26 369.3 28 369.3 30 369.3 32 369.2 34 369.3 36 369.3 38 368.3 40 368.7 42 370 44 367.5 46 365.6 48 367.2 50 366.7 52 364 54 362.1 56 361.1 58 359 60 353.5 62 352.1 64 350.9 66 342.4 68 326.5 70 314.5 72 301.6 74 292.7 76 283.8 78 279.1 80 277.3 82 276.8 84 286.1 86 289 88 297.8 90 300.9 92 302.6 94 304.2 96 305.7 98 298 100 289.4 102 284 104 275.3 106 268.5 108 266.4 110 266.2 112 268.8 114 288.2 116 297 118 307.2 120 322 122 339.8 124 350.6 126 357.1 128 361 130 364 132 365.6 134 366.6 136 367.5 138 368.1 140 368.6 142 369 144 369.4 146 369.6 148 369.7 150 369.7 152 369.7 154 369.6 156 369.8 158 369.7 160 369.7 162 369.7 164 369.7" fill="none" stroke="#000000" stroke-width="1.0"/>
<path d="M20 369.3h0M22 369.2h0M24 369.3h0M26 369.3h0M28 369.3h0M30 369.3h0M32 369.2h0M34 369.3h0M36 369.3h0M38 368.3h0M40 368.7h0M42 370h0M44 367.5h0M46 365.6h0M48 367.2h0M50 366.7h0M52 364h0M54 362.1h0M56 361.1h0M58 359h0M60 353.5h0M62 352.1h0M64 350.9h0M66 342.4h0M68 326.5h0M70 314.5h0M72 301.6h0M74 292.7h0M76 283.8h0M78 279.1h0M80 277.3h0M82 276.8h0M84 286.1h0M86 289h0M88 297.8h0M90 300.9h0M92 302.6h0M94 304.2h0M96 305.7h0M98 298h0M100 289.4h0M102 284h0M104 275.3h0M106 268.5h0M108 266.4h0M110 266.2h0M112 268.8h0M114 288.2h0M116 297h0M118 307.2h0M120 322h0M122 339.8h0M124 350.6h0M126 357.1h0M128 361h0M130 364h0M132 365.6h0M134 366.6h0M136 367.5h0M138 368.1h0M140 368.6h0M142 369h0M144 369.4h0M146 369.6h0M148 369.7h0M150 369.7h0M152 369.7h0M154 369.6h0M156 369.8h0M158 369.7h0M160 369.7h0M162 369.7h0M164 369.7h0" fill="none" stroke="#000000" stroke-width="4.4" stroke-linecap="round"/>
<path d="M20 479.5 22 479.5 24 479.5 26 479.5 28 479.6 30 479.6 32 479.4 34 479.4 36 479.4 38 479.5 40 479.4 42 480.4 44 480 46 479 48 478 50 476.9 52 475.6 54 474.4 56 472.8 58 471.3 60 469.8 62 467.9 64 463.7 66 451.8 68 440.4 70 433.6 72 425.8 74 415.8 76 409.9 78 406.3 80 403.4 82 411.1 84 410.3 86 414 88 417.8 90 417 92 412.1 94 411.6 96 410.9 98 400.8 100 391.9 102 382 104 376.8 106 376.1 108 376 110 381.1 112 391.2 114 403 116 412.8 118 422.9 120 433.9 122 445.8 124 452.8 126 457.5 128 461.8 130 465 132 468.5 134 471.1 136 472.6 138 473.3 140 473.6 142 474.1 144 474.8 146 477.1 148 479.6 150 480.4 152 480.3 154 480.3 156 480.4 158 480.2 160 480.2 162 480 164 479.8" fill="none" stroke="#ff5500" stroke-width="1.0"/>
<path d="M20 479.5h0M22 479.5h0M24 479.5h0M26 479.5h0M28 479.6h0M30 479.6h0M32 479.4h0M34 479.4h0M36 479.4h0M38 479.5h0M40 479.4h0M42 480.4h0M44 480h0M46 479h0M48 478h0M50 476.9h0M52 475.6h0M54 474.4h0M56 472.8h0M58 471.3h0M60 469.8h0M62 467.9h0M64 463.7h0M66 451.8h0M68 440.4h0M70 433.6h0M72 425.8h0M74 415.8h0M76 409.9h0M78 406.3h0M80 403.4h0M82 411.1h0M84 410.3h0M86 414h0M88 417.8h0M90 417h0M92 412.1h0M94 411.6h0M96 410.9h0M98 400.8h0M100 391.9h0M102 382h0M104 376.8h0M106 376.1h0M108 376h0M110 381.1h0M112 391.2h0M114 403h0M116 412.8h0M118 422.9h0M120 433.9h0M122 445.8h0M124 452.8h0M126 457.5h0M128 461.8h0M130 465h0M132 468.5h0M134 471.1h0M136 472.6h0M138 473.3h0M140 473.6h0M142 474.1h0M144 474.8h0M146 477.1h0M148 479.6h0M150 480.4h0M152 480.3h0M154 480.3h0M156 480.4h0M158 480.2h0M160 480.2h0M162 480h0M164 479.8h0" fill="none" stroke="#ff5500" stroke-width="4.4" stroke-linecap="round"/>
<path d="M20 479.6 22 479.5 24 479.6 26 479.5 28 479.5 30 479.4 32 479.6 34 479.4 36 479.5 38 477.3 40 477.9 42 478.9 44 476.6 46 475.9 48 477.5 50 477.9 52 476.9 54 475.5 56 473.1 58 470.3 60 465.9 62 461.2 64 454.2 66 442.3 68 431.7 70 417.7 72 408.1 74 402.7 76 393.2 78 387.8 80 387 82 387.4 84 393 86 398.7 88 406.1 90 409.5 92 412 94 414.7 96 415.9 98 408.5 100 399.9 102 392.1 104 384.2 106 377.3 108 375.6 110 375.6 112 377.1 114 397.8 116 408 118 415.2 120 430.3 122 448.5 124 459 126 468.2 128 473.2 130 476.2 132 477.3 134 477.5 136 477.8 138 477.9 140 478.1 142 478.3 144 478.7 146 479 148 479.3 150 479.4 152 479.3 154 479.2 156 479.3 158 479.2 160 479.3 162 479.4 164 479.3" fill="none" stroke="#000000" stroke-width="1.0"/>
<path d="M20 479.6h0M22 479.5h0M24 479.6h0M26 479.5h0M28 479.5h0M30 479.4h0M32 479.6h0M34 479.4h0M36 479.5h0M38 477.3h0M40 477.9h0M42 478.9h0M44 476.6h0M46 475.9h0M48 477.5h0M50 477.9h0M52 476.9h0M54 475.5h0M56 473.1h0M58 470.3h0M60 465.9h0M62 461.2h0M64 454.2h0M66 442.3h0M68 431.7h0M70 417.7h0M72 408.1h0M74 402.7h0M76 393.2h0M78 387.8h0M80 387h0M82 387.4h0M84 393h0M86 398.7h0M88 406.1h0M90 409.5h0M92 412h0M94 414.7h0M96 415.9h0M98 408.5h0M100 399.9h0M102 392.1h0M104 384.2h0M106 377.3h0M108 375.6h0M110 375.6h0M112 377.1h0M114 397.8h0M116 408h0M118 415.2h0M120 430.3h0M122 448.5h0M124 459h0M126 468.2h0M128 473.2h0M130 476.2h0M132 477.3h0M134 477.5h0M136 477.8h0M138 477.9h0M140 478.1h0M142 478.3h0M144 478.7h0M146 479h0M148 479.3h0M150 479.4h0M152 479.3h0M154 479.2h0M156 479.3h0M158 479.2h0M160 479.3h0M162 479.4h0M164 479.3h0" fill="none" stroke="#000000" stroke-width="4.4" stroke-linecap="round"/>
<path d="M184.6 369.2 186.6 369.4 188.6 369.2 190.6 369.4 192.6 369.3 194.6 369.4 196.6 369.4 198.6 369.4 200.6 369.4 202.6 369.4 204.6 369.4 206.6 372 208.6 370.6 210.6 368.4 212.6 367.2 214.6 366.5 216.6 366 218.6 365.2 220.6 363.8 222.6 361.3 224.6 358.3 226.6 354.5 228.6 349.6 230.6 343 232.6 337.7 234.6 331.6 236.6 323.4 238.6 316 240.6 307.6 242.6 298.1 244.6 299.4 246.6 299.8 248.6 305.1 250.6 308.6 252.6 310.4 254.6 311.4 256.6 303.8 258.6 299.4 260.6 294.3 262.6 286.4 264.6 273.8 266.6 267.2 268.6 267.3 270.6 270.5 272.6 274.5 274.6 277.3 276.6 282.8 278.6 297.7 280.6 303.4 282.6 310 284.6 326.9 286.6 341.6 288.6 347.2 290.6 351.1 292.6 353.4 294.6 354.9 296.6 356.7 298.6 358.4 300.6 360.8 302.6 362.7 304.6 363.7 306.6 364.3 308.6 364.9 310.6 365.6 312.6 367.7 314.6 370 316.6 370.5 318.6 370.4 320.6 370.5 322.6 370.4 324.6 370.1 326.6 369.9 328.6 369.6" fill="none" stroke="#cc00a2" stroke-width="1.0"/>
<path d="M184.6 369.2h0M186.6 369.4h0M188.6 369.2h0M190.6 369.4h0M192.6 369.3h0M194.6 369.4h0M196.6 369.4h0M198.6 369.4h0M200.6 369.4h0M202.6 369.4h0M204.6 369.4h0M206.6 372h0M208.6 370.6h0M210.6 368.4h0M212.6 367.2h0M214.6 366.5h0M216.6 366h0M218.6 365.2h0M220.6 363.8h0M222.6 361.3h0M224.6 358.3h0M226.6 354.5h0M228.6 349.6h0M230.6 343h0M232.6 337.7h0M234.6 331.6h0M236.6 323.4h0M238.6 316h0M240.6 307.6h0M242.6 298.1h0M244.6 299.4h0M246.6 299.8h0M248.6 305.1h0M250.6 308.6h0M252.6 310.4h0M254.6 311.4h0M256.6 303.8h0M258.6 299.4h0M260.6 294.3h0M262.6 286.4h0M264.6 273.8h0M266.6 267.2h0M268.6 267.3h0M270.6 270.5h0M272.6 274.5h0M274.6 277.3h0M276.6 282.8h0M278.6 297.7h0M280.6 303.4h0M282.6 310h0M284.6 326.9h0M286.6 341.6h0M288.6 347.2h0M290.6 351.1h0M292.6 353.4h0M294.6 354.9h0M296.6 356.7h0M298.6 358.4h0M300.6 360.8h0M302.6 362.7h0M304.6 363.7h0M306.6 364.3h0M308.6 364.9h0M310.6 365.6h0M312.6 367.7h0M314.6 370h0M316.6 370.5h0M318.6 370.4h0M320.6 370.5h0M322.6 370.4h0M324.6 370.1h0M326.6 369.9h0M328.6 369.6h0" fill="none" stroke="#cc00a2" stroke-width="4.4" stroke-linecap="round"/>
<path d="M184.6 369.4 186.6 369.3 188.6 369.4 190.6 369.2 192.6 369.2 194.6 369.3 196.6 369.3 198.6 369.3 200.6 369.3 202.6 369.3 204.6 368.5 206.6 362.2 208.6 365.2 210.6 365.6 212.6 365 214.6 364.6 216.6 364.1 218.6 362.9 220.6 361.3 222.6 358.2 224.6 353.4 226.6 350.1 228.6 345.5 230.6 339.4 232.6 331.1 234.6 314.2 236.6 301.1 238.6 293.1 240.6 292.2 242.6 281.9 244.6 280.6 246.6 284.8 248.6 292.3 250.6 303 252.6 307 254.6 306.7 256.6 299.1 258.6 298.8 260.6 302.7 262.6 288.8 264.6 285.5 266.6 278.3 268.6 271.9 270.6 267.5 272.6 269.9 274.6 276.7 276.6 286.5 278.6 298.9 280.6 312 282.6 317.7 284.6 332.9 286.6 343 288.6 347.3 290.6 350.4 292.6 352.5 294.6 354.5 296.6 356.3 298.6 358.9 300.6 361.6 302.6 364.3 304.6 367.2 306.6 368.4 308.6 368.9 310.6 369.1 312.6 369.3 314.6 369.3 316.6 369.3 318.6 369.3 320.6 369.4 322.6 369.3 324.6 369.2 326.6 369.3 328.6 369.2" fill="none" stroke="#000000" stroke-width="1.0"/>
<path d="M184.6 369.4h0M186.6 369.3h0M188.6 369.4h0M190.6 369.2h0M192.6 369.2h0M194.6 369.3h0M196.6 369.3h0M198.6 369.3h0M200.6 369.3h0M202.6 369.3h0M204.6 368.5h0M206.6 362.2h0M208.6 365.2h0M210.6 365.6h0M212.6 365h0M214.6 364.6h0M216.6 364.1h0M218.6 362.9h0M220.6 361.3h0M222.6 358.2h0M224.6 353.4h0M226.6 350.1h0M228.6 345.5h0M230.6 339.4h0M232.6 331.1h0M234.6 314.2h0M236.6 301.1h0M238.6 293.1h0M240.6 292.2h0M242.6 281.9h0M244.6 280.6h0M246.6 284.8h0M248.6 292.3h0M250.6 303h0M252.6 307h0M254.6 306.7h0M256.6 299.1h0M258.6 298.8h0M260.6 302.7h0M262.6 288.8h0M264.6 285.5h0M266.6 278.3h0M268.6 271.9h0M270.6 267.5h0M272.6 269.9h0M274.6 276.7h0M276.6 286.5h0M278.6 298.9h0M280.6 312h0M282.6 317.7h0M284.6 332.9h0M286.6 343h0M288.6 347.3h0M290.6 350.4h0M292.6 352.5h0M294.6 354.5h0M296.6 356.3h0M298.6 358.9h0M300.6 361.6h0M302.6 364.3h0M304.6 367.2h0M306.6 368.4h0M308.6 368.9h0M310.6 369.1h0M312.6 369.3h0M314.6 369.3h0M316.6 369.3h0M318.6 369.3h0M320.6 369.4h0M322.6 369.3h0M324.6 369.2h0M326.6 369.3h0M328.6 369.2h0" fill="none" stroke="#000000" stroke-width="4.4" stroke-linecap="round"/>
<path d="M184.6 478 186.6 478.2 188.6 478.1 190.6 478.2 192.6 478.2 194.6 478.2 196.6 478.2 198.6 478.1 200.6 478.2 202.6 478.4 204.6 478.5 206.6 478.9 208.6 479.2 210.6 478.5 212.6 477.7 214.6 476.9 216.6 475.7 218.6 474.3 220.6 472.9 222.6 471.1 224.6 469.6 226.6 467.7 228.6 464.3 230.6 459 232.6 452.7 234.6 444.3 236.6 435.8 238.6 426.2 240.6 418.4 242.6 413.7 244.6 410 246.6 411.5 248.6 415.1 250.6 421.9 252.6 427.5 254.6 423.4 256.6 415.4 258.6 411.5 260.6 409.3 262.6 406.6 264.6 399.7 266.6 391.8 268.6 377.3 270.6 375.9 272.6 376 274.6 376.5 276.6 379.5 278.6 391.9 280.6 394.8 282.6 402.3 284.6 413.4 286.6 426.6 288.6 438.5 290.6 444.4 292.6 449.2 294.6 453.8 296.6 457.9 298.6 461.5 300.6 464.1 302.6 466.6 304.6 468.7 306.6 471.1 308.6 475.7 310.6 480.2 312.6 480.3 314.6 480.2 316.6 480.3 318.6 480.2 320.6 480.1 322.6 479.8 324.6 479.6 326.6 479 328.6 478.5" fill="none" stroke="#ff5500" stroke-width="1.0"/>
<path d="M184.6 478h0M186.6 478.2h0M188.6 478.1h0M190.6 478.2h0M192.6 478.2h0M194.6 478.2h0M196.6 478.2h0M198.6 478.1h0M200.6 478.2h0M202.6 478.4h0M204.6 478.5h0M206.6 478.9h0M208.6 479.2h0M210.6 478.5h0M212.6 477.7h0M214.6 476.9h0M216.6 475.7h0M218.6 474.3h0M220.6 472.9h0M222.6 471.1h0M224.6 469.6h0M226.6 467.7h0M228.6 464.3h0M230.6 459h0M232.6 452.7h0M234.6 444.3h0M236.6 435.8h0M238.6 426.2h0M240.6 418.4h0M242.6 413.7h0M244.6 410h0M246.6 411.5h0M248.6 415.1h0M250.6 421.9h0M252.6 427.5h0M254.6 423.4h0M256.6 415.4h0M258.6 411.5h0M260.6 409.3h0M262.6 406.6h0M264.6 399.7h0M266.6 391.8h0M268.6 377.3h0M270.6 375.9h0M272.6 376h0M274.6 376.5h0M276.6 379.5h0M278.6 391.9h0M280.6 394.8h0M282.6 402.3h0M284.6 413.4h0M286.6 426.6h0M288.6 438.5h0M290.6 444.4h0M292.6 449.2h0M294.6 453.8h0M296.6 457.9h0M298.6 461.5h0M300.6 464.1h0M302.6 466.6h0M304.6 468.7h0M306.6 471.1h0M308.6 475.7h0M310.6 480.2h0M312.6 480.3h0M314.6 480.2h0M316.6 480.3h0M318.6 480.2h0M320.6 480.1h0M322.6 479.8h0M324.6 479.6h0M326.6 479h0M328.6 478.5h0" fill="none" stroke="#ff5500" stroke-width="4.4" stroke-linecap="round"/>
<path d="M184.6 478.2 186.6 478.2 188.6 478.2 190.6 478.1 192.6 478 194.6 478 196.6 478.1 198.6 478.1 200.6 478.1 202.6 478.1 204.6 477.2 206.6 471.4 208.6 471.1 210.6 473.9 212.6 473.5 214.6 472.5 216.6 471.2 218.6 469.8 220.6 467.5 222.6 465.1 224.6 462.3 226.6 460.1 228.6 456.4 230.6 451.9 232.6 440 234.6 424.7 236.6 416.9 238.6 404.3 240.6 397 242.6 392.9 244.6 390.2 246.6 396.6 248.6 403.4 250.6 412.1 252.6 416.3 254.6 415.9 256.6 408.4 258.6 411.8 260.6 416 262.6 400.8 264.6 394.4 266.6 391.1 268.6 383.8 270.6 376 272.6 379.7 274.6 386.6 276.6 396 278.6 411 280.6 424 282.6 429.1 284.6 434.8 286.6 445.7 288.6 449.8 290.6 454.5 292.6 458 294.6 460.1 296.6 462.9 298.6 465.5 300.6 467.9 302.6 469.7 304.6 471.6 306.6 474.6 308.6 477.9 310.6 477.9 312.6 477.8 314.6 477.8 316.6 477.9 318.6 477.9 320.6 477.8 322.6 477.9 324.6 477.9 326.6 477.9 328.6 477.9" fill="none" stroke="#000000" stroke-width="1.0"/>
<path d="M184.6 478.2h0M186.6 478.2h0M188.6 478.2h0M190.6 478.1h0M192.6 478h0M194.6 478h0M196.6 478.1h0M198.6 478.1h0M200.6 478.1h0M202.6 478.1h0M204.6 477.2h0M206.6 471.4h0M208.6 471.1h0M210.6 473.9h0M212.6 473.5h0M214.6 472.5h0M216.6 471.2h0M218.6 469.8h0M220.6 467.5h0M222.6 465.1h0M224.6 462.3h0M226.6 460.1h0M228.6 456.4h0M230.6 451.9h0M232.6 440h0M234.6 424.7h0M236.6 416.9h0M238.6 404.3h0M240.6 397h0M242.6 392.9h0M244.6 390.2h0M246.6 396.6h0M248.6 403.4h0M250.6 412.1h0M252.6 416.3h0M254.6 415.9h0M256.6 408.4h0M258.6 411.8h0M260.6 416h0M262.6 400.8h0M264.6 394.4h0M266.6 391.1h0M268.6 383.8h0M270.6 376h0M272.6 379.7h0M274.6 386.6h0M276.6 396h0M278.6 411h0M280.6 424h0M282.6 429.1h0M284.6 434.8h0M286.6 445.7h0M288.6 449.8h0M290.6 454.5h0M292.6 458h0M294.6 460.1h0M296.6 462.9h0M298.6 465.5h0M300.6 467.9h0M302.6 469.7h0M304.6 471.6h0M306.6 474.6h0M308.6 477.9h0M310.6 477.9h0M312.6 477.8h0M314.6 477.8h0M316.6 477.9h0M318.6 477.9h0M320.6 477.8h0M322.6 477.9h0M324.6 477.9h0M326.6 477.9h0M328.6 477.9h0" fill="none" stroke="#000000" stroke-width="4.4" stroke-linecap="round"/>
<text x="0.6" y="12" font-size="14.5" fill="#000" text-anchor="start">a)</text>
<text x="0.6" y="274.5" font-size="14.5" fill="#000" text-anchor="start">b)</text>
<text transform="translate(11.1 112.3) rotate(-90)" font-size="13.8" text-anchor="middle" fill="#000">Intensity (a.u.)</text>
<text transform="translate(11.1 375.4) rotate(-90)" font-size="13.8" text-anchor="middle" fill="#000">Intensity (a.u.)</text>
<text transform="translate(339.3 109.4) rotate(90)" font-size="13.8" text-anchor="middle" fill="#000">Intensity (a.u.)</text>
<text transform="translate(339.6 372.3) rotate(90)" font-size="13.8" text-anchor="middle" fill="#000">Intensity (a.u.)</text>
<text x="112.6" y="252.3" font-size="13.5" fill="#000" text-anchor="start">Binding Energy (eV)</text>
<text x="112.6" y="515.9" font-size="13.5" fill="#000" text-anchor="start">Binding Energy (eV)</text>
<text x="27.5" y="25.8" font-size="9.7" fill="#000000" text-anchor="start" stroke="#000000" stroke-width="0.3">Ir AP</text>
<text x="27.5" y="36.7" font-size="9.7" fill="#cc00a2" text-anchor="start" stroke="#cc00a2" stroke-width="0.3">Ir IV</text>
<text x="27.5" y="137" font-size="9.7" fill="#000000" text-anchor="start" stroke="#000000" stroke-width="0.3">Ir AP</text>
<text x="27.5" y="147.6" font-size="9.7" fill="#ff5500" text-anchor="start" stroke="#ff5500" stroke-width="0.3">Ir 2V</text>
<text x="185.6" y="26.3" font-size="9.7" fill="#000000" stroke="#000000" stroke-width="0.3">IrO<tspan font-size="6.0" dy="2">2</tspan><tspan dy="-2"> AP</tspan></text>
<text x="185.6" y="39.1" font-size="9.7" fill="#cc00a2" stroke="#cc00a2" stroke-width="0.3">IrO<tspan font-size="6.0" dy="2">2</tspan><tspan dy="-2"> IV</tspan></text>
<text x="185.6" y="137.1" font-size="9.7" fill="#000000" stroke="#000000" stroke-width="0.3">IrO<tspan font-size="6.0" dy="2">2</tspan><tspan dy="-2"> AP</tspan></text>
<text x="185.6" y="150.4" font-size="9.7" fill="#ff5500" stroke="#ff5500" stroke-width="0.3">IrO<tspan font-size="6.0" dy="2">2</tspan><tspan dy="-2"> 2V</tspan></text>
<text x="27.5" y="288.1" font-size="9.7" fill="#000000" text-anchor="start" stroke="#000000" stroke-width="0.3">Ir AP</text>
<text x="27.5" y="298.7" font-size="9.7" fill="#cc00a2" text-anchor="start" stroke="#cc00a2" stroke-width="0.3">Ir IV</text>
<text x="27.5" y="399.1" font-size="9.7" fill="#000000" text-anchor="start" stroke="#000000" stroke-width="0.3">Ir AP</text>
<text x="27.5" y="409.6" font-size="9.7" fill="#ff5500" text-anchor="start" stroke="#ff5500" stroke-width="0.3">Ir 2V</text>
<text x="185.6" y="287.9" font-size="9.7" fill="#000000" stroke="#000000" stroke-width="0.3">IrO<tspan font-size="6.0" dy="2">2</tspan><tspan dy="-2"> AP</tspan></text>
<text x="185.6" y="301.4" font-size="9.7" fill="#cc00a2" stroke="#cc00a2" stroke-width="0.3">IrO<tspan font-size="6.0" dy="2">2</tspan><tspan dy="-2"> IV</tspan></text>
<text x="185.6" y="400.9" font-size="9.7" fill="#000000" stroke="#000000" stroke-width="0.3">IrO<tspan font-size="6.0" dy="2">2</tspan><tspan dy="-2"> AP</tspan></text>
<text x="185.6" y="412.3" font-size="9.7" fill="#ff5500" stroke="#ff5500" stroke-width="0.3">IrO<tspan font-size="6.0" dy="2">2</tspan><tspan dy="-2"> 2V</tspan></text>
<text x="0.6" y="543.3" font-size="14.5" fill="#000" text-anchor="start">c)</text>
<text x="175" y="543.1" font-size="13.6" fill="#1a1a1a" text-anchor="middle" stroke="#1a1a1a" stroke-width="0.25">F:Ir Ratios</text>
<line x1="54.8" y1="682" x2="321.7" y2="682" stroke="#d4d4d4" stroke-width="1.2"/>
<text x="42.4" y="686.3" font-size="12.5" fill="#595959" text-anchor="end" stroke="#595959" stroke-width="0.3">0</text>
<line x1="54.8" y1="656" x2="321.7" y2="656" stroke="#d4d4d4" stroke-width="1.2"/>
<text x="42.4" y="660.3" font-size="12.5" fill="#595959" text-anchor="end" stroke="#595959" stroke-width="0.3">20</text>
<line x1="54.8" y1="630" x2="321.7" y2="630" stroke="#d4d4d4" stroke-width="1.2"/>
<text x="42.4" y="634.3" font-size="12.5" fill="#595959" text-anchor="end" stroke="#595959" stroke-width="0.3">40</text>
<line x1="54.8" y1="604" x2="321.7" y2="604" stroke="#d4d4d4" stroke-width="1.2"/>
<text x="42.4" y="608.3" font-size="12.5" fill="#595959" text-anchor="end" stroke="#595959" stroke-width="0.3">60</text>
<line x1="54.8" y1="578" x2="321.7" y2="578" stroke="#d4d4d4" stroke-width="1.2"/>
<text x="42.4" y="582.3" font-size="12.5" fill="#595959" text-anchor="end" stroke="#595959" stroke-width="0.3">80</text>
<line x1="54.8" y1="552" x2="321.7" y2="552" stroke="#d4d4d4" stroke-width="1.2"/>
<text x="42.4" y="556.3" font-size="12.5" fill="#595959" text-anchor="end" stroke="#595959" stroke-width="0.3">100</text>
<rect x="70.1" y="578" width="14.2" height="104" fill="#000000"/>
<rect x="114.5" y="617.6" width="14.2" height="64.4" fill="#cc00a2"/>
<rect x="158.9" y="643.4" width="14.2" height="38.6" fill="#ff5500"/>
<rect x="203.4" y="651.5" width="14.2" height="30.5" fill="#000000"/>
<rect x="247.8" y="646.2" width="14.2" height="35.8" fill="#cc00a2"/>
<rect x="292.2" y="662.5" width="14.2" height="19.5" fill="#ff5500"/>
<text x="77.2" y="695.4" font-size="9.9" fill="#000000" text-anchor="middle" stroke="#000000" stroke-width="0.2" letter-spacing="-0.15">Ir AP</text>
<text x="121.6" y="695.4" font-size="9.9" fill="#cc00a2" text-anchor="middle" stroke="#cc00a2" stroke-width="0.2" letter-spacing="-0.15">Ir IV</text>
<text x="166" y="695.4" font-size="9.9" fill="#ff5500" text-anchor="middle" stroke="#ff5500" stroke-width="0.2" letter-spacing="-0.15">Ir 2V</text>
<text x="210.5" y="695.4" font-size="9.9" fill="#000000" stroke="#000000" stroke-width="0.2" text-anchor="middle" letter-spacing="-0.15">IrO<tspan font-size="6" dy="2.3">2</tspan><tspan dy="-2.3"> AP</tspan></text>
<text x="254.9" y="695.4" font-size="9.9" fill="#cc00a2" stroke="#cc00a2" stroke-width="0.2" text-anchor="middle" letter-spacing="-0.15">IrO<tspan font-size="6" dy="2.3">2</tspan><tspan dy="-2.3"> IV</tspan></text>
<text x="299.3" y="695.4" font-size="9.9" fill="#ff5500" stroke="#ff5500" stroke-width="0.2" text-anchor="middle" letter-spacing="-0.15">IrO<tspan font-size="6" dy="2.3">2</tspan><tspan dy="-2.3"> 2V</tspan></text>
<text x="0.6" y="722" font-size="14.5" fill="#000" text-anchor="start">d)</text>
<text x="175" y="722.1" font-size="13.6" fill="#1a1a1a" text-anchor="middle" stroke="#1a1a1a" stroke-width="0.25">F:S Ratios</text>
<line x1="54.8" y1="861.7" x2="321.7" y2="861.7" stroke="#d4d4d4" stroke-width="1.2"/>
<text x="42.4" y="866" font-size="12.5" fill="#595959" text-anchor="end" stroke="#595959" stroke-width="0.3">0</text>
<line x1="54.8" y1="835.5" x2="321.7" y2="835.5" stroke="#d4d4d4" stroke-width="1.2"/>
<text x="42.4" y="839.8" font-size="12.5" fill="#595959" text-anchor="end" stroke="#595959" stroke-width="0.3">20</text>
<line x1="54.8" y1="809.4" x2="321.7" y2="809.4" stroke="#d4d4d4" stroke-width="1.2"/>
<text x="42.4" y="813.7" font-size="12.5" fill="#595959" text-anchor="end" stroke="#595959" stroke-width="0.3">40</text>
<line x1="54.8" y1="783.2" x2="321.7" y2="783.2" stroke="#d4d4d4" stroke-width="1.2"/>
<text x="42.4" y="787.5" font-size="12.5" fill="#595959" text-anchor="end" stroke="#595959" stroke-width="0.3">60</text>
<line x1="54.8" y1="757.1" x2="321.7" y2="757.1" stroke="#d4d4d4" stroke-width="1.2"/>
<text x="42.4" y="761.4" font-size="12.5" fill="#595959" text-anchor="end" stroke="#595959" stroke-width="0.3">80</text>
<line x1="54.8" y1="730.9" x2="321.7" y2="730.9" stroke="#d4d4d4" stroke-width="1.2"/>
<text x="42.4" y="735.2" font-size="12.5" fill="#595959" text-anchor="end" stroke="#595959" stroke-width="0.3">100</text>
<rect x="70.1" y="731.9" width="14.2" height="129.8" fill="#000000"/>
<rect x="114.5" y="763.7" width="14.2" height="98" fill="#cc00a2"/>
<rect x="158.9" y="763.7" width="14.2" height="98" fill="#ff5500"/>
<rect x="203.4" y="749" width="14.2" height="112.7" fill="#000000"/>
<rect x="247.8" y="750.8" width="14.2" height="110.9" fill="#cc00a2"/>
<rect x="292.2" y="749" width="14.2" height="112.7" fill="#ff5500"/>
<text x="77.2" y="875.4" font-size="9.9" fill="#000000" text-anchor="middle" stroke="#000000" stroke-width="0.2" letter-spacing="-0.15">Ir AP</text>
<text x="121.6" y="875.4" font-size="9.9" fill="#cc00a2" text-anchor="middle" stroke="#cc00a2" stroke-width="0.2" letter-spacing="-0.15">Ir IV</text>
<text x="166" y="875.4" font-size="9.9" fill="#ff5500" text-anchor="middle" stroke="#ff5500" stroke-width="0.2" letter-spacing="-0.15">Ir 2V</text>
<text x="210.5" y="875.4" font-size="9.9" fill="#000000" stroke="#000000" stroke-width="0.2" text-anchor="middle" letter-spacing="-0.15">IrO<tspan font-size="6" dy="2.3">2</tspan><tspan dy="-2.3"> AP</tspan></text>
<text x="254.9" y="875.4" font-size="9.9" fill="#cc00a2" stroke="#cc00a2" stroke-width="0.2" text-anchor="middle" letter-spacing="-0.15">IrO<tspan font-size="6" dy="2.3">2</tspan><tspan dy="-2.3"> IV</tspan></text>
<text x="299.3" y="875.4" font-size="9.9" fill="#ff5500" stroke="#ff5500" stroke-width="0.2" text-anchor="middle" letter-spacing="-0.15">IrO<tspan font-size="6" dy="2.3">2</tspan><tspan dy="-2.3"> 2V</tspan></text>
</svg>
</body></html>
